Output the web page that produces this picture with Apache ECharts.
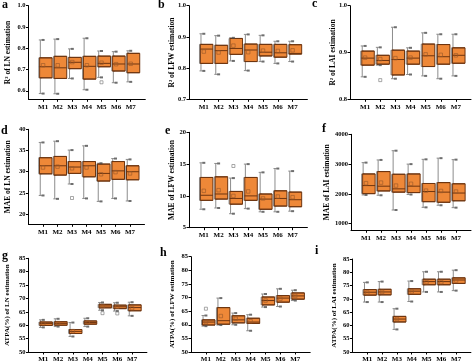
<!DOCTYPE html>
<html><head><meta charset="utf-8">
<script src="https://cdn.jsdelivr.net/npm/echarts@6/dist/echarts.min.js"></script>
<style>html,body{margin:0;padding:0;background:#fff}#c{width:474px;height:363px}</style>
</head><body><div id="c"></div>
<script>
// ---------- DATA ----------
const categories = ['M1','M2','M3','M4','M5','M6','M7'];
// each item: [min, Q1, median, Q3, max]
const lnR2 = [[0.587,0.661,0.713,0.755,0.839],[0.586,0.658,0.708,0.762,0.843],[0.658,0.704,0.734,0.757,0.797],[0.605,0.655,0.715,0.762,0.847],[0.663,0.713,0.729,0.763,0.787],[0.638,0.693,0.726,0.763,0.784],[0.642,0.685,0.726,0.776,0.788]];
const lnR2Mean = [0.72,0.72,0.735,0.72,0.732,0.725,0.727];
const lnR2Out = [['M5',0.64]];
const lfwR2 = [[0.791,0.815,0.861,0.876,0.910],[0.780,0.815,0.856,0.873,0.904],[0.823,0.844,0.863,0.895,0.897],[0.792,0.821,0.858,0.877,0.908],[0.821,0.839,0.851,0.876,0.905],[0.815,0.835,0.849,0.876,0.886],[0.821,0.845,0.847,0.875,0.886]];
const lfwR2Mean = [0.853,0.850,0.872,0.851,0.856,0.855,0.857];
const lfwR2Out = [];
const laiR2 = [[0.848,0.873,0.888,0.903,0.914],[0.873,0.875,0.883,0.894,0.911],[0.844,0.852,0.885,0.905,0.954],[0.853,0.875,0.888,0.903,0.910],[0.850,0.870,0.893,0.918,0.942],[0.844,0.875,0.891,0.917,0.939],[0.850,0.877,0.894,0.910,0.939]];
const laiR2Mean = [0.889,0.886,0.888,0.889,0.896,0.895,0.894];
const laiR2Out = [['M2',0.841]];
const lnMae = [[24.4,29.5,31.4,33.3,36.9],[23.6,29.2,31.4,33.6,37.2],[27.1,29.6,31.1,32.4,35.1],[23.7,28.8,31.4,32.4,36.1],[23.0,27.8,29.6,31.8,32.0],[23.7,28.2,30.2,32.4,33.1],[23.1,28.1,30.0,31.4,32.9]];
const lnMaeMean = [31.0,31.2,30.8,31.0,29.4,29.9,29.6];
const lnMaeOut = [['M3',23.8]];
const lfwMae = [[7.9,9.3,10.1,12.9,15.2],[8.1,9.5,10.3,13.0,15.1],[7.2,8.7,9.6,10.7,12.8],[8.0,9.3,10.0,12.9,15.0],[7.5,7.9,9.5,10.3,13.7],[7.5,8.4,9.6,10.8,14.3],[7.6,8.3,9.4,10.6,13.9]];
const lfwMaeMean = [10.8,10.9,10.0,10.7,9.6,9.9,9.8];
const lfwMaeOut = [['M3',14.7]];
const laiMae = [[1966,2010,2280,2670,3050],[1955,2100,2260,2750,3140],[1460,2060,2170,2660,3450],[1980,2045,2260,2670,3000],[1550,1740,2080,2350,3160],[1620,1720,2060,2380,3200],[1540,1770,2030,2340,3150]];
const laiMaeMean = [2360,2380,2280,2340,2110,2100,2080];
const laiMaeOut = [];
const lnAtpa = [[59.2,59.9,60.6,61.2,62.0],[59.5,60.0,60.7,61.3,62.4],[55.8,56.9,57.7,58.4,61.0],[59.5,60.4,61.0,61.6,62.6],[65.6,66.5,67.2,67.8,68.5],[65.3,66.2,66.9,67.5,68.4],[63.5,65.4,66.6,67.6,68.6]];
const lnAtpaMean = [60.7,60.8,57.8,61.1,67.1,66.9,66.4];
const lnAtpaOut = [['M5',64.5],['M6',64.4]];
const lfwAtpa = [[59.5,59.9,61.0,61.8,63.4],[59.9,60.2,61.5,66.3,69.8],[60.0,60.7,61.8,63.3,64.3],[57.8,60.5,61.0,62.4,63.7],[66.5,67.3,68.9,70.2,71.3],[66.7,68.3,69.8,70.7,73.2],[68.9,69.4,70.6,71.7,72.7]];
const lfwAtpaMean = [61.0,63.2,62.2,61.3,68.9,69.6,70.6];
const lfwAtpaOut = [['M1',65.9]];
const laiAtpa = [[68.8,71.4,72.5,73.5,76.2],[68.8,71.5,72.6,73.6,76.5],[58.5,61.3,62.4,63.4,66.3],[69.0,71.7,72.9,73.8,76.7],[72.6,75.3,76.5,77.4,80.2],[72.6,75.3,76.5,77.4,80.2],[73.1,75.8,77.1,77.9,80.8]];
const laiAtpaMean = [72.4,72.6,62.4,72.8,76.3,76.3,76.9];
const laiAtpaOut = [];
// tick labels
const ticksLnR2 = [0.6,0.7,0.8,0.9,1.0];
const ticksLfwR2 = [0.7,0.8,0.9,1.0];
const ticksLaiR2 = [0.8,0.9,1.0];
const ticksLnMae = [20,25,30,35,40];
const ticksLfwMae = [5,10,15,20];
const ticksLaiMae = [1000,2000,3000,4000];
const ticksAtpa = [50,55,60,65,70,75,80,85];

// ---------- LAYOUT ----------
const FONT = 'Liberation Serif';
const panels = [
 {letter:'a', lp:[2,-1], name:'R² of LN estimation', stats:lnR2, mean:lnR2Mean, out:lnR2Out, min:0.56, max:1.0, ticks:ticksLnR2, dec:1, grid:{left:28.5,top:5.7,width:116.8,height:93.6}, gap:16.5, ns:7.5},
 {letter:'b', lp:[158,-1], name:'R² of LFW estimation', stats:lfwR2, mean:lfwR2Mean, out:lfwR2Out, min:0.7, max:1.0, ticks:ticksLfwR2, dec:1, grid:{left:189,top:5.7,width:118.4,height:93.6}, gap:12.5, ns:7.5},
 {letter:'c', lp:[312,-2], name:'R² of LAI estimation', stats:laiR2, mean:laiR2Mean, out:laiR2Out, min:0.8, max:1.0, ticks:ticksLaiR2, dec:1, grid:{left:350,top:5.7,width:121.6,height:93.6}, gap:13.3, ns:7.5},
 {letter:'d', lp:[1,125], name:'MAE of LN estimation', stats:lnMae, mean:lnMaeMean, out:lnMaeOut, min:17.6, max:40, ticks:ticksLnMae, dec:0, grid:{left:28.5,top:129.3,width:116,height:95}, gap:16.8, ns:7.5},
 {letter:'e', lp:[165,125], name:'MAE of LFW estimation', stats:lfwMae, mean:lfwMaeMean, out:lfwMaeOut, min:5, max:20, ticks:ticksLfwMae, dec:0, grid:{left:189,top:132.3,width:118.4,height:95.4}, gap:13.3, ns:7.5},
 {letter:'f', lp:[322,123], name:'MAE of LAI estimation', stats:laiMae, mean:laiMaeMean, out:laiMaeOut, min:780, max:4000, ticks:ticksLaiMae, dec:0, grid:{left:351,top:134.3,width:121.6,height:96}, gap:20.3, ns:7.5},
 {letter:'g', lp:[2,250], name:'ATPA(%) of LN estimation', stats:lnAtpa, mean:lnAtpaMean, out:lnAtpaOut, min:50, max:85, ticks:ticksAtpa, dec:0, grid:{left:28.5,top:258.3,width:118.4,height:94}, gap:17.8, ns:7},
 {letter:'h', lp:[160,247], name:'ATPA(%) of LFW estimation', stats:lfwAtpa, mean:lfwAtpaMean, out:lfwAtpaOut, min:50, max:85, ticks:ticksAtpa, dec:0, grid:{left:191,top:256.7,width:119.2,height:95.6}, gap:15.3, ns:7},
 {letter:'i', lp:[315,245], name:'ATPA(%) of LAI estimation', stats:laiAtpa, mean:laiAtpaMean, out:laiAtpaOut, min:50, max:85, ticks:ticksAtpa, dec:0, grid:{left:352.5,top:259,width:118.4,height:94}, gap:14.8, ns:7}
];

const axisCats = [''].concat(categories).concat(['']);
const catIdx = c => categories.indexOf(c) + 1;
const BOX_FILL = '#EE8838', BOX_EDGE = '#6e3510', WHISK = '#8c8c8c';

const option = {animation:false, title:[], grid:[], xAxis:[], yAxis:[], series:[]};
panels.forEach((p, k) => {
  option.title.push({text:p.letter, left:p.lp[0], top:p.lp[1], padding:0,
    textStyle:{fontFamily:FONT, fontWeight:'bold', fontSize:12, color:'#000'}});
  option.grid.push(Object.assign({containLabel:false}, p.grid));
  option.xAxis.push({type:'category', gridIndex:k, data:axisCats, boundaryGap:false,
    axisLine:{lineStyle:{color:'#000', width:1}},
    axisTick:{show:true, length:2.5, inside:false, interval:(i)=> i>0 && i<8, lineStyle:{color:'#000'}},
    axisLabel:{interval:0, margin:4, fontFamily:FONT, fontWeight:'bold', fontSize:7, color:'#000'},
    splitLine:{show:false}});
  option.yAxis.push({type:'value', gridIndex:k, min:p.min, max:p.max,
    name:p.name, nameLocation:'middle', nameRotate:90, nameGap:p.gap, nameMoveOverlap:false,
    nameTextStyle:{fontFamily:FONT, fontWeight:'bold', fontSize:p.ns, color:'#000'},
    axisLine:{show:true, lineStyle:{color:'#000', width:1}},
    axisTick:{show:true, length:2.5, customValues:p.ticks, lineStyle:{color:'#000'}},
    axisLabel:{customValues:p.ticks, margin:3, fontFamily:FONT, fontWeight:'bold', fontSize:6.5, color:'#000',
      formatter:v => Number(v).toFixed(p.dec)},
    splitLine:{show:false}});
  const blank = ['-','-','-','-','-'];
  // whiskers (full range, narrow)
  option.series.push({type:'boxplot', xAxisIndex:k, yAxisIndex:k, boxWidth:[3,3],
    data:[blank].concat(p.stats),
    itemStyle:{color:'#fff', borderColor:WHISK, borderWidth:1}, z:2});
  // boxes (Q1..Q3)
  option.series.push({type:'boxplot', xAxisIndex:k, yAxisIndex:k, boxWidth:[12.5,12.5],
    data:[blank].concat(p.stats.map(s => [s[1], s[1], s[2], s[3], s[3]])),
    itemStyle:{color:BOX_FILL, borderColor:BOX_EDGE, borderWidth:1}, z:3});
  // whisker caps
  const caps = [];
  p.stats.forEach((s, i) => { caps.push([i+1, s[0]]); caps.push([i+1, s[4]]); });
  option.series.push({type:'scatter', xAxisIndex:k, yAxisIndex:k, data:caps, symbol:'rect', symbolSize:[3,2],
    itemStyle:{color:'#4a4a4a'}, z:4});
  // means
  option.series.push({type:'scatter', xAxisIndex:k, yAxisIndex:k, data:p.mean.map((m,i)=>[i+1,m]),
    symbol:'rect', symbolSize:3.5, itemStyle:{color:'rgba(0,0,0,0)', borderColor:'#9a5a2a', borderWidth:0.8}, z:5});
  // outliers
  option.series.push({type:'scatter', xAxisIndex:k, yAxisIndex:k, data:p.out.map(o=>[catIdx(o[0]), o[1]]),
    symbol:'rect', symbolSize:3, itemStyle:{color:'rgba(0,0,0,0)', borderColor:'#777', borderWidth:0.8}, z:5});
});

const chart = echarts.init(document.getElementById('c'), null, {renderer:'canvas'});
chart.setOption(option);
</script>
</body></html>
